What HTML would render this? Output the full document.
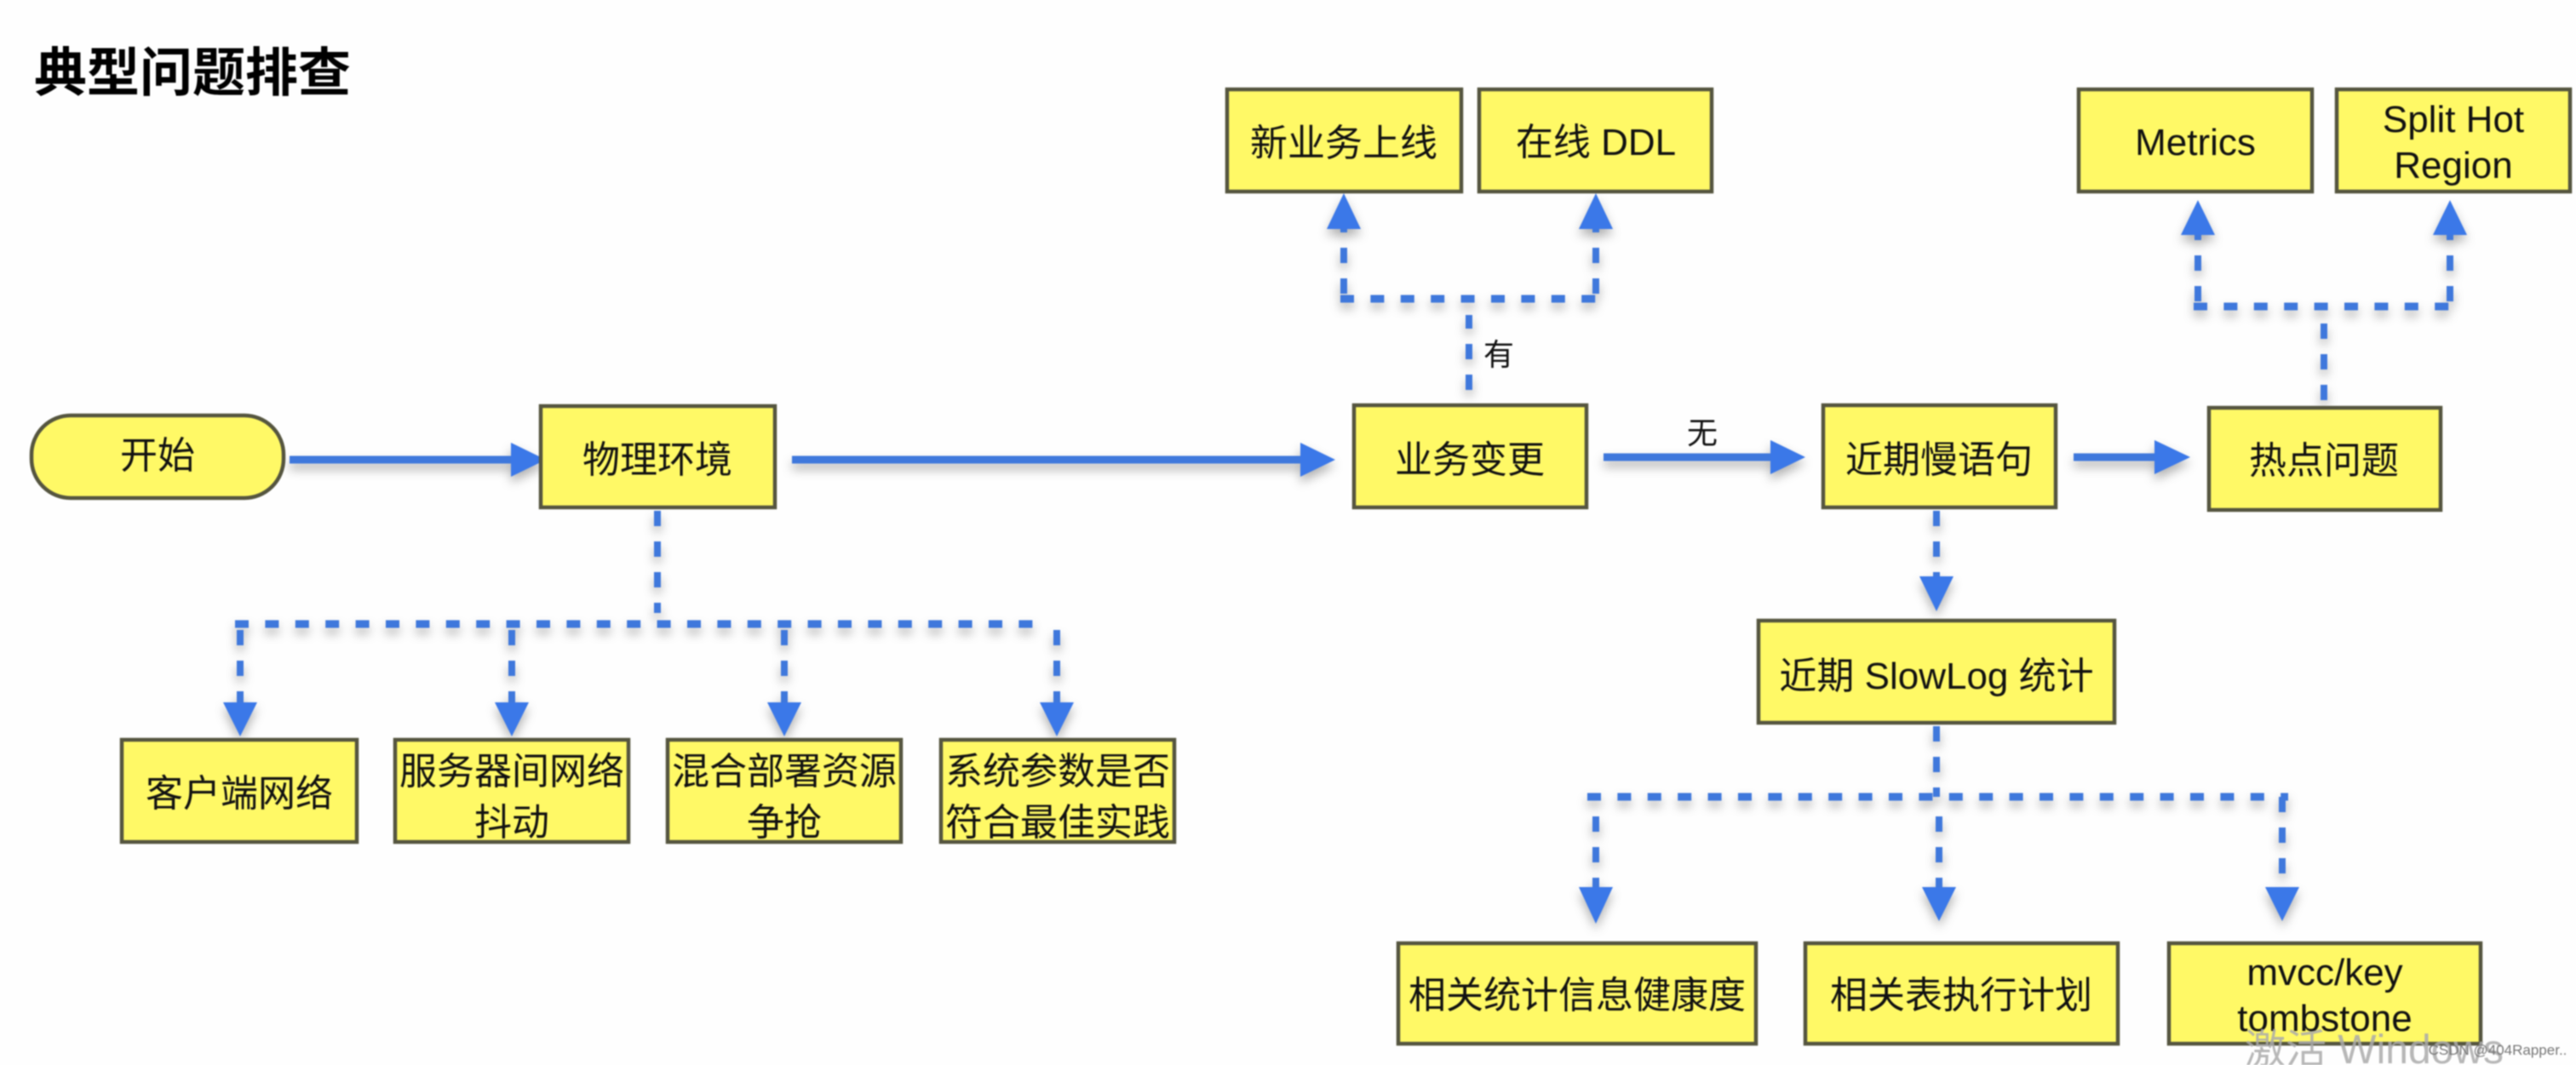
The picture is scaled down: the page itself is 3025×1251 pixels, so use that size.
<!DOCTYPE html>
<html><head><meta charset="utf-8"><style>
html,body{margin:0;padding:0;background:#fefefe}
svg{display:block;filter:blur(.7px)}
text{font-family:"Liberation Sans","Noto Sans CJK SC",sans-serif;fill:#111;text-anchor:middle}
.b{fill:#fff966;stroke:#55553f;stroke-width:4.5}
.c{filter:drop-shadow(0 7px 6px rgba(0,0,0,.3))}
.s{stroke:#3f78dc;stroke-width:9;fill:none}
.d{stroke:#3f78dc;stroke-width:8;fill:none;stroke-dasharray:18 18}
.h{stroke:#3f78dc;stroke-width:9;fill:none;stroke-dasharray:16 19.4}
.a{fill:#3b78e8}
.n{font-size:44px}
</style></head><body>
<svg width="3025" height="1251" viewBox="0 0 3025 1251" xmlns="http://www.w3.org/2000/svg">
<rect width="3025" height="1251" fill="#fefefe"/>
<text x="226" y="107" font-size="62" font-weight="700" style="fill:#000">典型问题排查</text>

<g class="c">
<path class="s" d="M340 540H604M930 540H1530M1883 537H2082M2435 537H2534"/>
<path class="a" d="M600 520L641 540L600 560ZM1527 520L1568 540L1527 560ZM2079 517L2120 537L2079 557ZM2530 517L2572 537L2530 557Z"/>

<path class="d" d="M772 600V720M282 740V828M601 740V828M921 740V828M1241 740V828"/>
<path class="h" d="M276 733H1215"/>
<path class="a" d="M262 825H302L282 865ZM581 825H621L601 865ZM901 825H941L921 865ZM1221 825H1261L1241 865Z"/>

<path class="d" d="M1725 458V370M1578 345V262M1874 345V262"/>
<path class="h" d="M1574 351H1878"/>
<path class="a" d="M1558 269H1598L1578 227ZM1854 269H1894L1874 227Z"/>

<path class="d" d="M2729 470V380M2581 354V270M2877 354V270"/>
<path class="h" d="M2576 360H2882"/>
<path class="a" d="M2561 276H2601L2581 235ZM2857 276H2897L2877 235Z"/>

<path class="d" d="M2274 600V680M2274 853V936M1874 959V1045M2277 959V1045M2680 936V1045"/>
<path class="h" d="M1864 936H2687"/>
<path class="a" d="M2254 677H2294L2274 718ZM1854 1042H1894L1874 1085ZM2257 1042H2297L2277 1082ZM2660 1042H2700L2680 1082Z"/>
</g>

<rect class="b" x="37" y="488" width="296" height="97" rx="46"/>
<rect class="b" x="635" y="477" width="275" height="119"/>
<rect class="b" x="1441" y="105" width="275" height="120"/>
<rect class="b" x="1737" y="105" width="273" height="120"/>
<rect class="b" x="2441" y="105" width="274" height="120"/>
<rect class="b" x="2744" y="105" width="274" height="120"/>
<rect class="b" x="1590" y="476" width="273" height="120"/>
<rect class="b" x="2141" y="476" width="273" height="120"/>
<rect class="b" x="2594" y="479" width="272" height="120"/>
<rect class="b" x="2065" y="729" width="418" height="120"/>
<rect class="b" x="143" y="869" width="276" height="120"/>
<rect class="b" x="464" y="869" width="274" height="120"/>
<rect class="b" x="784" y="869" width="274" height="120"/>
<rect class="b" x="1105" y="869" width="274" height="120"/>
<rect class="b" x="1642" y="1108" width="420" height="118"/>
<rect class="b" x="2120" y="1108" width="367" height="118"/>
<rect class="b" x="2547" y="1108" width="366" height="118"/>

<g class="n">
<text x="185" y="550">开始</text>
<text x="772" y="555">物理环境</text>
<text x="1578" y="183">新业务上线</text>
<text x="1874" y="182">在线 DDL</text>
<text x="2578" y="182">Metrics</text>
<text x="2881" y="155">Split Hot</text>
<text x="2881" y="209">Region</text>
<text x="1726" y="555">业务变更</text>
<text x="2277" y="555">近期慢语句</text>
<text x="2729" y="556">热点问题</text>
<text x="2274" y="809">近期 SlowLog 统计</text>
<text x="281" y="947">客户端网络</text>
<text x="601" y="921">服务器间网络</text>
<text x="601" y="981">抖动</text>
<text x="921" y="921">混合部署资源</text>
<text x="921" y="981">争抢</text>
<text x="1242" y="921">系统参数是否</text>
<text x="1242" y="981">符合最佳实践</text>
<text x="1852" y="1184">相关统计信息健康度</text>
<text x="2303" y="1184">相关表执行计划</text>
<text x="2730" y="1157">mvcc/key</text>
<text x="2730" y="1211">tombstone</text>
</g>
<text x="1760" y="429" font-size="36">有</text>
<text x="1999" y="521" font-size="36">无</text>

<text x="2788" y="1249" font-size="48" style="fill:#aaa;fill-opacity:.85">激活 Windows</text>
<text x="2933" y="1239" font-size="17" style="fill:#777">CSDN @404Rapper..</text>
</svg>
</body></html>
